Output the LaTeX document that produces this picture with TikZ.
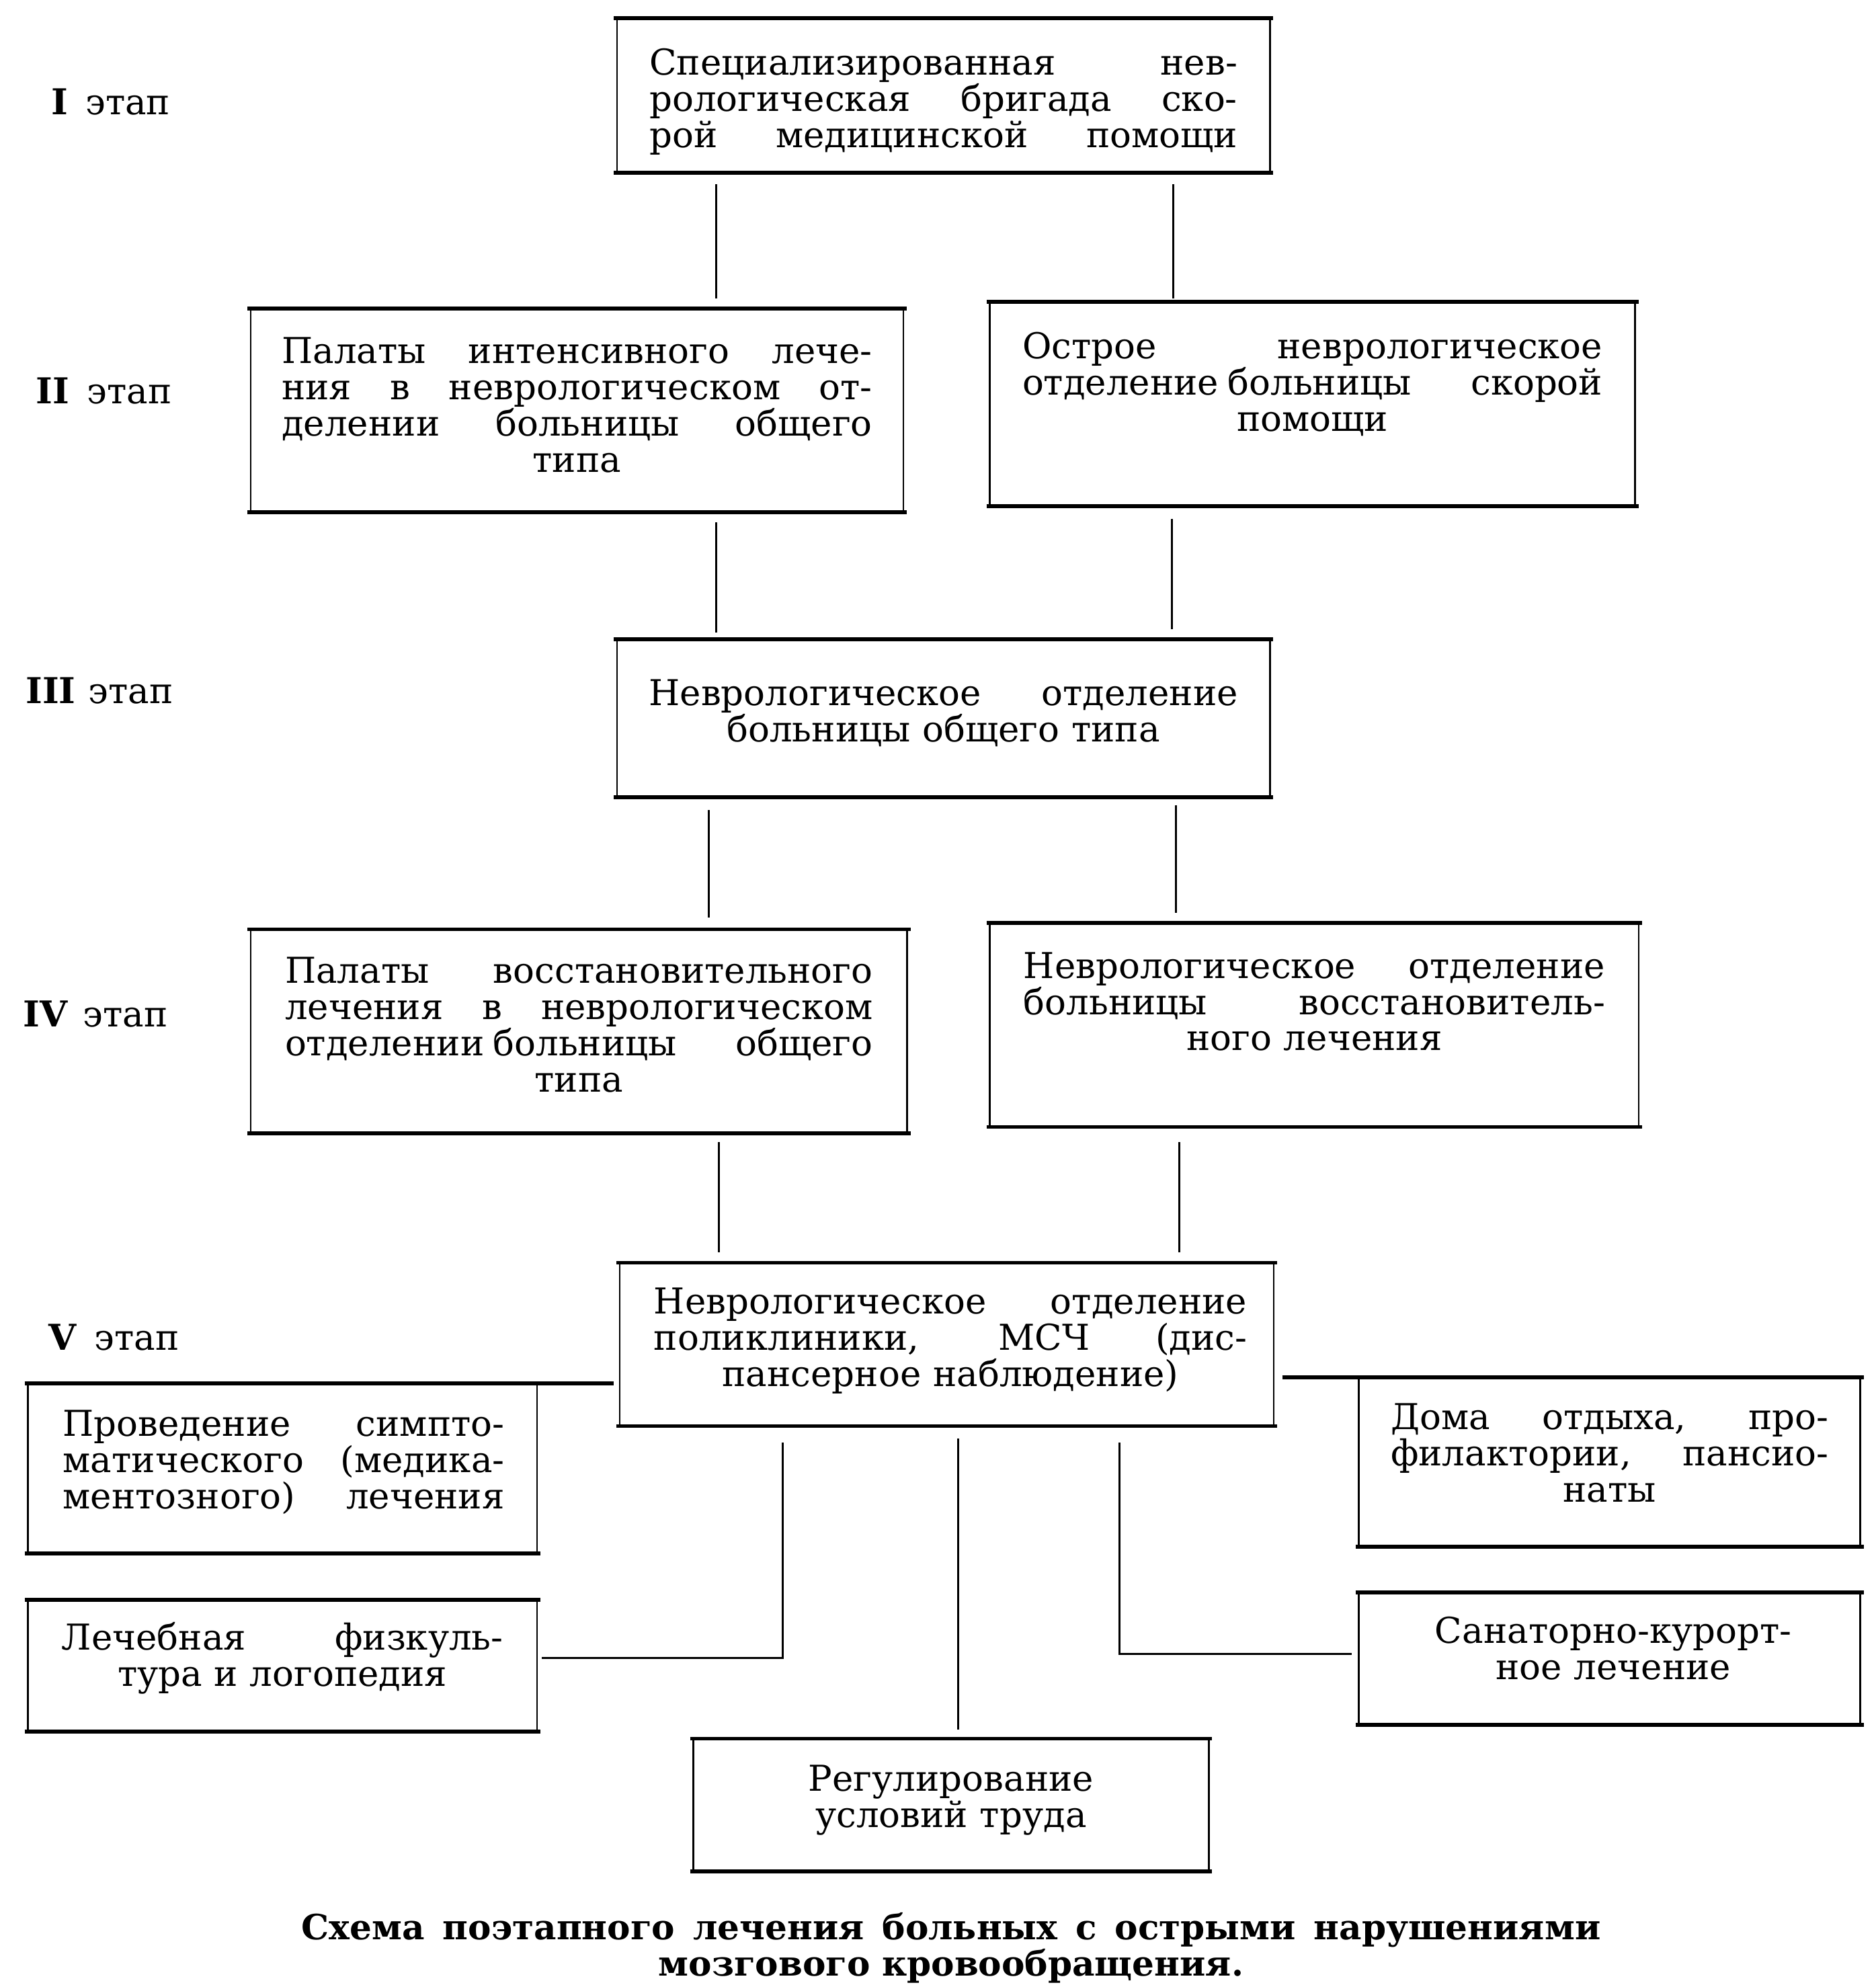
\documentclass[tikz,border=0pt]{standalone}
\usepackage{fontspec}
\setmainfont{DejaVu Serif}
\newcommand{\jst}[1]{{\spaceskip=0.33em plus 20em minus 0.12em\relax\makebox[\linewidth][s]{#1}}}
\newcommand{\hedges}[1]{%
  \draw[hedge] ([xshift=-2pt]#1.north west) -- ([xshift=2pt]#1.north east);
  \draw[hedge] ([xshift=-2pt]#1.south west) -- ([xshift=2pt]#1.south east);}
\begin{document}
\begin{tikzpicture}[x=1pt,y=-1pt,
  every node/.style={font=\fontsize{28}{28.5}\selectfont},
  stagebox/.style={draw, line width=1.4pt, inner sep=0pt},
  boxtext/.style={inner sep=0pt, align=center},
  hedge/.style={line width=3pt},
  conn/.style={line width=1.7pt},
  stagelabel/.style={anchor=west, inner sep=0pt}]
\useasboundingbox (0,0) rectangle (1474,1560);

% stage labels
\node[stagelabel] (s1) at (40,80) {\textbf{I}\kern14pt этап};
\node[stagelabel] (s2) at (28,307) {\textbf{II}\kern14pt этап};
\node[stagelabel] (s3) at (20,543) {\textbf{III}\kern10pt этап};
\node[stagelabel] (s4) at (18,797) {\textbf{IV}\kern12pt этап};
\node[stagelabel] (s5) at (38,1051) {\textbf{V}\kern14pt этап};

% boxes
\node[stagebox, minimum width=513pt, minimum height=120pt] (b1) at (741.5,75) {};
\node[stagebox, minimum width=513pt, minimum height=159pt] (b2l) at (453.5,322.5) {};
\node[stagebox, minimum width=507pt, minimum height=159pt] (b2r) at (1031.5,317.5) {};
\node[stagebox, minimum width=513pt, minimum height=123pt] (b3) at (741.5,564.5) {};
\node[stagebox, minimum width=516pt, minimum height=159pt] (b4l) at (455,810.5) {};
\node[stagebox, minimum width=510pt, minimum height=159pt] (b4r) at (1033,805.5) {};
\node[stagebox, minimum width=514pt, minimum height=127pt] (b5) at (744,1056.5) {};
\node[stagebox, minimum width=400pt, minimum height=132pt] (bp) at (222,1154) {};
\node[stagebox, minimum width=400pt, minimum height=102pt] (bl) at (222,1309) {};
\node[stagebox, minimum width=405pt, minimum height=103pt] (br) at (747.5,1418.5) {};
\node[stagebox, minimum width=394pt, minimum height=132pt] (bd) at (1265,1149) {};
\node[stagebox, minimum width=394pt, minimum height=103pt] (bs) at (1265,1303.5) {};

\foreach \n in {b1,b2l,b2r,b3,b4l,b4r,b5,bp,bl,br,bd,bs} {\hedges{\n}}

% box texts
\node[boxtext, text width=462pt] (t1) at ([yshift=-5pt]b1.center)
  {\jst{Специализированная нев-}\\\jst{рологическая бригада ско-}\\\jst{рой медицинской помощи}};
\node[boxtext, text width=464pt] (t2l) at ([yshift=4pt]b2l.center)
  {\jst{Палаты интенсивного лече-}\\\jst{ния в неврологическом от-}\\\jst{делении больницы общего}\\типа};
\node[boxtext, text width=456pt] (t2r) at ([yshift=-1pt]b2r.center)
  {\jst{Острое неврологическое}\\\jst{отделение\kern7pt больницы скорой}\\помощи\\\strut};
\node[boxtext, text width=463pt] (t3) at ([yshift=4pt]b3.center)
  {\jst{Неврологическое отделение}\\больницы общего типа};
\node[boxtext, text width=462pt] (t4l) at ([yshift=5pt]b4l.center)
  {\jst{Палаты восстановительного}\\\jst{лечения в неврологическом}\\\jst{отделении\kern7pt больницы общего}\\типа};
\node[boxtext, text width=457pt] (t4r) at ([yshift=0pt]b4r.center)
  {\jst{Неврологическое отделение}\\\jst{больницы восстановитель-}\\ного лечения\\\strut};
\node[boxtext, text width=466pt] (t5) at ([xshift=3pt,yshift=3pt]b5.center)
  {\jst{Неврологическое отделение}\\\jst{поликлиники, МСЧ (дис-}\\пансерное наблюдение)};
\node[boxtext, text width=347pt] (tp) at ([xshift=1pt,yshift=5pt]bp.center)
  {\jst{Проведение симпто-}\\\jst{матического (медика-}\\\jst{ментозного) лечения}};
\node[boxtext, text width=347pt] (tl) at ([yshift=6pt]bl.center)
  {\jst{Лечебная физкуль-}\\тура и логопедия};
\node[boxtext, text width=347pt] (tr) at ([yshift=4pt]br.center)
  {Регулирование\\условий труда};
\node[boxtext, text width=344pt] (td) at ([yshift=7pt]bd.center)
  {\jst{Дома отдыха, про-}\\\jst{филактории, пансио-}\\наты};
\node[boxtext, text width=344pt] (ts) at ([xshift=3pt,yshift=8pt]bs.center)
  {Санаторно-курорт-\\ное лечение};

% connectors
\draw[conn, shorten <=9pt, shorten >=8pt] (b1.south -| 563,0) -- (b2l.north -| 563,0);
\draw[conn, shorten <=9pt, shorten >=3pt] (b1.south -| 922,0) -- (b2r.north -| 922,0);
\draw[conn, shorten <=8pt, shorten >=5pt] (b2l.south -| 563,0) -- (b3.north -| 563,0);
\draw[conn, shorten <=10pt, shorten >=8pt] (b2r.south -| 921,0) -- (b3.north -| 921,0);
\draw[conn, shorten <=10pt, shorten >=9pt] (b3.south -| 557,0) -- (b4l.north -| 557,0);
\draw[conn, shorten <=6pt, shorten >=8pt] (b3.south -| 924,0) -- (b4r.north -| 924,0);
\draw[conn, shorten <=7pt, shorten >=8pt] (b4l.south -| 565,0) -- (b5.north -| 565,0);
\draw[conn, shorten <=12pt, shorten >=8pt] (b4r.south -| 927,0) -- (b5.north -| 927,0);

\draw[hedge, shorten >=4pt] (bp.north east) -- (b5.west |- bp.north);
\draw[hedge, shorten <=6pt] (b5.east |- bd.north) -- (bd.north west);

\coordinate (jl) at (615,1303);
\coordinate (jr) at (880,1300);
\draw[conn, shorten <=13pt] (b5.south -| jl) -- (jl) -- ([xshift=3pt]bl.east |- jl);
\draw[conn, shorten <=10pt, shorten >=7pt] (b5.south -| 753,0) -- (br.north -| 753,0);
\draw[conn, shorten <=13pt] (b5.south -| jr) -- (jr) -- ([xshift=-5pt]bs.west |- jr);

% caption
\node[font=\bfseries\fontsize{27.3}{28.5}\selectfont, text width=1021pt, align=center, inner sep=0pt] (cap) at (747.5,1531)
  {\jst{Схема поэтапного лечения больных с острыми нарушениями}\\мозгового кровообращения.};
\end{tikzpicture}
\end{document}
